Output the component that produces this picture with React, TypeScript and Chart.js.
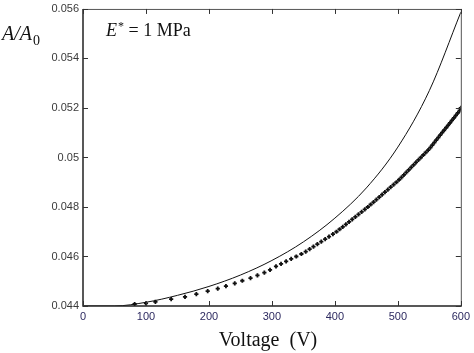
import React, { useEffect, useRef } from "react";
import { Chart, registerables } from "chart.js";

Chart.register(...registerables);

// Solid curve (model) — voltage (V) vs A/A0
const solidVoltage = [0, 50, 100, 150, 200, 250, 300, 350, 400, 450, 500, 550, 600];
const solidRatio = [0.044, 0.044, 0.04415, 0.04443, 0.04479, 0.04525, 0.04584, 0.04659, 0.04755, 0.04877, 0.05042, 0.0527, 0.05587];

// Dotted series (markers)
const dotVoltage = [
  82, 100, 115, 140, 162, 180, 198, 214, 227, 241, 253, 266, 277, 288, 297,
  306.5, 314.5, 322.6, 330.6, 338.7, 346.8,
  353.7, 359.9, 366.0, 372.2, 378.4, 384.6, 390.7, 396.9,
  402.5, 407.5, 412.5, 417.5, 422.5, 427.5, 432.5, 437.5, 442.5, 447.5,
  452.3, 456.8, 461.4, 465.9, 470.5, 475.0, 479.5, 484.1, 488.6, 493.2, 497.7,
  501.9, 505.8, 509.6, 513.5, 517.3, 521.2, 525.0, 528.8, 532.7, 536.5, 540.4, 544.2, 548.1,
  551.6, 554.7, 557.8, 560.9, 564.1, 567.2, 570.3, 573.4, 576.6, 579.7, 582.8, 585.9, 589.1, 592.2, 595.3, 598.4, 600,
];
const dotRatio = [
  0.04408, 0.04411, 0.04417, 0.04428, 0.04437, 0.04448, 0.0446, 0.0447, 0.0448, 0.04491, 0.04502, 0.04513, 0.04524, 0.04535, 0.04546,
  0.0456, 0.0457, 0.0458, 0.0459, 0.046, 0.0461,
  0.0462, 0.0463, 0.0464, 0.0465, 0.0466, 0.0467, 0.0468, 0.0469,
  0.047, 0.0471, 0.0472, 0.0473, 0.0474, 0.0475, 0.0476, 0.0477, 0.0478, 0.0479,
  0.048, 0.0481, 0.0482, 0.0483, 0.0484, 0.0485, 0.0486, 0.0487, 0.0488, 0.0489, 0.049,
  0.0491, 0.0492, 0.0493, 0.0494, 0.0495, 0.0496, 0.0497, 0.0498, 0.0499, 0.05, 0.0501, 0.0502, 0.0503,
  0.0504, 0.0505, 0.0506, 0.0507, 0.0508, 0.0509, 0.051, 0.0511, 0.0512, 0.0513, 0.0514, 0.0515, 0.0516, 0.0517, 0.0518, 0.0519, 0.052,
];

const xTickLabels = ["0", "100", "200", "300", "400", "500", "600"];
const yTickLabels = ["0.044", "0.046", "0.048", "0.05", "0.052", "0.054", "0.056"];

const framePlugin = {
  id: "framePlugin",
  afterDraw(chart: any) {
    const { ctx, chartArea } = chart;
    const { left, right, top, bottom } = chartArea;
    const xs = chart.scales.x;
    const ys = chart.scales.y;
    ctx.save();
    // frame
    ctx.strokeStyle = "#555";
    ctx.lineWidth = 1;
    ctx.beginPath();
    ctx.moveTo(left, top + 0.5);
    ctx.lineTo(right + 0.5, top + 0.5);
    ctx.lineTo(right + 0.5, bottom);
    ctx.stroke();
    ctx.strokeStyle = "#222";
    ctx.lineWidth = 1.5;
    ctx.beginPath();
    ctx.moveTo(left, top);
    ctx.lineTo(left, bottom);
    ctx.lineTo(right + 1, bottom);
    ctx.stroke();
    // inward ticks
    const tl = 5;
    ctx.strokeStyle = "#333";
    ctx.lineWidth = 1;
    xs.ticks.forEach((t: any) => {
      const px = Math.round(xs.getPixelForValue(t.value)) + 0.5;
      ctx.beginPath();
      ctx.moveTo(px, bottom);
      ctx.lineTo(px, bottom - tl);
      ctx.moveTo(px, top);
      ctx.lineTo(px, top + tl);
      ctx.stroke();
    });
    ys.ticks.forEach((t: any) => {
      const py = Math.round(ys.getPixelForValue(t.value)) + 0.5;
      ctx.beginPath();
      ctx.moveTo(left, py);
      ctx.lineTo(left + tl, py);
      ctx.moveTo(right, py);
      ctx.lineTo(right - tl, py);
      ctx.stroke();
    });
    // texts
    ctx.fillStyle = "#111";
    ctx.textBaseline = "alphabetic";
    ctx.textAlign = "left";
    // A/A0
    ctx.font = 'italic 20px "Liberation Serif"';
    ctx.fillText("A/A", 2, 40);
    const w1 = ctx.measureText("A/A").width;
    ctx.font = '14px "Liberation Serif"';
    ctx.fillText("0", 3 + w1, 45);
    // E* = 1 MPa
    let x = 106;
    ctx.font = 'italic 18px "Liberation Serif"';
    ctx.fillText("E", x, 36);
    x += ctx.measureText("E").width;
    ctx.font = '12px "Liberation Serif"';
    ctx.fillText("*", x + 1, 30);
    x += ctx.measureText("*").width + 1;
    ctx.font = '18px "Liberation Serif"';
    ctx.fillText(" = 1 MPa", x, 36);
    // x title
    ctx.textAlign = "center";
    ctx.font = '20px "Liberation Serif"';
    ctx.fillText("Voltage  (V)", 268, 346);
    ctx.restore();
  },
};

export default function App() {
  const ref = useRef<HTMLCanvasElement | null>(null);
  useEffect(() => {
    if (!ref.current) return;
    const chart = new Chart(ref.current, {
      type: "scatter",
      data: {
        datasets: [
          {
            label: "model",
            data: solidVoltage.map((v, i) => ({ x: v, y: solidRatio[i] })),
            showLine: true,
            borderColor: "#111",
            borderWidth: 1,
            pointRadius: 0,
            cubicInterpolationMode: "monotone",
            fill: false,
          },
          {
            label: "data",
            data: dotVoltage.map((v, i) => ({ x: v, y: dotRatio[i] })),
            showLine: false,
            pointStyle: "cross",
            pointRadius: 2.1,
            borderWidth: 1.8,
            borderColor: "#111",
            backgroundColor: "#111",
          },
        ],
      },
      options: {
        animation: false,
        responsive: true,
        maintainAspectRatio: false,
        layout: { padding: { left: 0, right: 12, top: 5, bottom: 0 } },
        plugins: { legend: { display: false }, tooltip: { enabled: false } },
        scales: {
          x: {
            type: "linear",
            min: 0,
            max: 600,
            grid: { display: false, drawTicks: false },
            border: { display: false },
            ticks: {
              stepSize: 100,
              padding: 4,
              color: "#2d2a60",
              font: { family: "Liberation Sans", size: 11 },
              callback: (_v: any, i: number) => xTickLabels[i],
            },
            afterFit: (s: any) => {
              s.height = 47;
            },
          },
          y: {
            type: "linear",
            min: 0.044,
            max: 0.056,
            grid: { display: false, drawTicks: false },
            border: { display: false },
            ticks: {
              stepSize: 0.002,
              padding: 4,
              color: "#3a3a3a",
              font: { family: "Liberation Sans", size: 11, lineHeight: 0.9 },
              callback: (_v: any, i: number) => yTickLabels[i],
            },
            afterFit: (s: any) => {
              s.width = 83;
            },
          },
        },
      },
      plugins: [framePlugin],
    });
    return () => chart.destroy();
  }, []);
  return (
    <div style={{ position: "absolute", left: 0, top: 0, width: 474, height: 353, background: "#fff" }}>
      <canvas ref={ref} />
    </div>
  );
}
